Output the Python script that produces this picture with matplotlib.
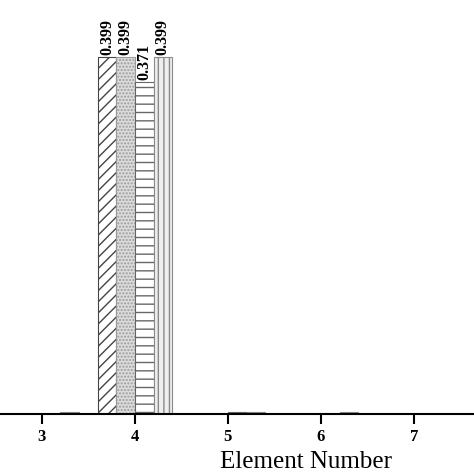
import numpy as np
import matplotlib.pyplot as plt

# dane
elements = [3, 4, 5, 6, 7]
s1 = [0.0, 0.399, 0.0, 0.0, 0.0]
s2 = [0.0, 0.399, 0.0, 0.0, 0.0]
s3 = [0.0, 0.371, 0.002, 0.0, 0.0]
s4 = [0.002, 0.399, 0.002, 0.002, 0.0]
series = [s1, s2, s3, s4]
tick_vals = [3, 4, 5, 6, 7]

plt.rcParams['font.family'] = ['Liberation Serif', 'DejaVu Serif']
plt.rcParams['hatch.linewidth'] = 1.0

fig = plt.figure(figsize=(4.74, 4.74), dpi=100)
ax = fig.add_axes([0, 1 - 414 / 474, 1, 414 / 474])

x = np.array(elements, dtype=float)
w = 0.2
offsets = [-0.3, -0.1, 0.1, 0.3]
styles = [
    dict(facecolor='white', hatch='///', edgecolor='#444444'),
    dict(facecolor='#dcdcdc', hatch='.....', edgecolor='#9a9a9a'),
    dict(facecolor='white', hatch='--', edgecolor='#666666'),
    dict(facecolor='#eeeeee', hatch='|||', edgecolor='#8a8a8a'),
]

for vals, off, st in zip(series, offsets, styles):
    bars = ax.bar(x + off, vals, width=w, linewidth=0.8, **st)
    for b, v in zip(bars, vals):
        if v > 0.1:
            ax.text(b.get_x() + b.get_width() / 2, v + 0.002, f'{v:.3f}',
                    rotation=90, ha='center', va='bottom',
                    fontsize=11.5, fontweight='bold')

ax.set_xticks(tick_vals)
ax.set_xlim(2.55, 7.645)
ax.set_ylim(0, 0.4627)
ax.set_yticks([])
for s in ['left', 'right', 'top']:
    ax.spines[s].set_visible(False)
ax.spines['bottom'].set_linewidth(1.5)
ax.tick_params(axis='x', direction='out', length=7, width=1.5, pad=4,
               labelsize=12)
for lab in ax.get_xticklabels():
    lab.set_fontweight('bold')

ax.set_xlabel('Element Number', fontsize=18)
ax.xaxis.set_label_coords(0.645, -0.116)
ax.xaxis.label.set_va('center')

fig.savefig('out.png', dpi=100)
